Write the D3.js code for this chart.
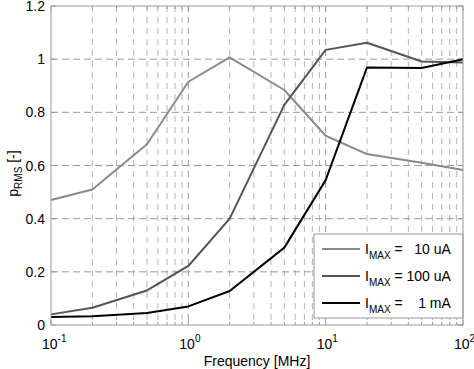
<!DOCTYPE html>
<html>
<head>
<meta charset="utf-8">
<script src="https://cdn.jsdelivr.net/npm/d3@7"></script>
<style>
  body { margin: 0; background: #fff; }
  svg { display: block; font-family: "Liberation Sans", Arial, sans-serif; }
</style>
</head>
<body>
<svg id="chart" width="474" height="369"></svg>
<script>
// frequency points (MHz)
const freqs = [0.1, 0.2, 0.5, 1, 2, 5, 10, 20, 50, 100];

// p_RMS per current limit
const imax10uA  = [0.47, 0.51, 0.68, 0.915, 1.007, 0.884, 0.712, 0.643, 0.61, 0.583];
const imax100uA = [0.04, 0.065, 0.13, 0.222, 0.40, 0.828, 1.035, 1.062, 0.991, 0.987];
const imax1mA   = [0.03, 0.033, 0.045, 0.07, 0.128, 0.291, 0.545, 0.969, 0.967, 1.0];

const seriesNames  = ["10 uA", "100 uA", "1 mA"];
const seriesPad    = ["  ", "", "   "];
const yTicks = [0, 0.2, 0.4, 0.6, 0.8, 1, 1.2];
const xMajor = [0.1, 1, 10, 100];
const xExp   = ["-1", "0", "1", "2"];

const series = [
    { name: seriesNames[0], values: imax10uA,  color: "#8a8a8a" },
    { name: seriesNames[1], values: imax100uA, color: "#555555" },
    { name: seriesNames[2], values: imax1mA,   color: "#000000" }
];

const svg = d3.select("#chart");
const margin = { top: 6, right: 11, bottom: 44, left: 51 };
const width = 474 - margin.left - margin.right;
const height = 369 - margin.top - margin.bottom;

const g = svg.append("g")
    .attr("transform", `translate(${margin.left},${margin.top})`);

const x = d3.scaleLog().domain([0.1, 100]).range([0, width]);
const y = d3.scaleLinear().domain([0, 1.2]).range([height, 0]);

// minor positions 2..9 in each decade
const minor = [];
[0.1, 1, 10].forEach(d => { for (let k = 2; k <= 9; k++) minor.push(d * k); });

// grid
g.append("g").selectAll("line.minor")
    .data(minor).join("line")
    .attr("x1", d => x(d)).attr("x2", d => x(d))
    .attr("y1", 0).attr("y2", height)
    .style("stroke", "#b4b4b4")
    .style("stroke-dasharray", "6,5")
    .style("stroke-width", 1);

g.append("g").selectAll("line.major")
    .data(xMajor.slice(1, 3)).join("line")
    .attr("x1", d => x(d)).attr("x2", d => x(d))
    .attr("y1", 0).attr("y2", height)
    .style("stroke", "#999")
    .style("stroke-dasharray", "6,5");

g.append("g").selectAll("line.hgrid")
    .data(yTicks.slice(1, -1)).join("line")
    .attr("x1", 0).attr("x2", width)
    .attr("y1", d => y(d)).attr("y2", d => y(d))
    .style("stroke", "#999")
    .style("stroke-dasharray", "7,4");

// tick marks on all sides
const tickG = g.append("g").style("stroke", "#999").style("stroke-width", 1);
minor.concat(xMajor).forEach(d => {
    const len = minor.includes(d) ? 3 : 5;
    tickG.append("line").attr("x1", x(d)).attr("x2", x(d)).attr("y1", height).attr("y2", height - len);
    tickG.append("line").attr("x1", x(d)).attr("x2", x(d)).attr("y1", 0).attr("y2", len);
});
yTicks.forEach(d => {
    tickG.append("line").attr("x1", 0).attr("x2", 5).attr("y1", y(d)).attr("y2", y(d));
    tickG.append("line").attr("x1", width).attr("x2", width - 5).attr("y1", y(d)).attr("y2", y(d));
});

// lines
const line = d3.line()
    .x((d, i) => x(freqs[i]))
    .y(d => y(d));

series.forEach(s => {
    g.append("path")
        .datum(s.values)
        .attr("d", line)
        .style("fill", "none")
        .style("stroke", s.color)
        .style("stroke-width", 2)
        .style("stroke-linejoin", "round");
});

// legend
const leg = g.append("g").attr("transform", `translate(${width - 149},${y(0) - 91})`);
leg.append("rect")
    .attr("width", 149).attr("height", 84)
    .style("fill", "#fff")
    .style("stroke", "#999");
series.forEach((s, i) => {
    const ly = 15 + i * 27;
    leg.append("line")
        .attr("x1", 8).attr("x2", 46)
        .attr("y1", ly).attr("y2", ly)
        .style("stroke", s.color)
        .style("stroke-width", 2);
    const t = leg.append("text")
        .attr("x", 51).attr("y", ly + 5)
        .style("font-size", "14px")
        .attr("xml:space", "preserve");
    t.append("tspan").text("I");
    t.append("tspan").attr("dy", 5).style("font-size", "10px").text("MAX");
    t.append("tspan").attr("dy", -5).text(" = " + seriesPad[i] + s.name);
});

// axes box
g.append("rect")
    .attr("width", width).attr("height", height)
    .style("fill", "none")
    .style("stroke", "#999");

// y tick labels
g.append("g").selectAll("text")
    .data(yTicks).join("text")
    .attr("x", -6)
    .attr("y", d => y(d) + 5)
    .attr("text-anchor", "end")
    .style("font-size", "14px")
    .text(d => d3.format("~g")(d));

// x tick labels
xMajor.forEach((d, i) => {
    const t = g.append("text")
        .attr("x", x(d) - 9)
        .attr("y", height + 24)
        .style("font-size", "14px");
    t.append("tspan").text("10");
    t.append("tspan").attr("dy", -7).style("font-size", "10px").text(xExp[i]);
});

// axis titles
g.append("text")
    .attr("x", width / 2)
    .attr("y", height + 41)
    .attr("text-anchor", "middle")
    .style("font-size", "14px")
    .text("Frequency [MHz]");

const yl = g.append("text")
    .attr("transform", `translate(-33,${height / 2 + 8}) rotate(-90)`)
    .attr("text-anchor", "middle")
    .style("font-size", "14px");
yl.append("tspan").text("p");
yl.append("tspan").attr("dy", 4).style("font-size", "10px").text("RMS");
yl.append("tspan").attr("dy", -4).text(" [-]");
</script>
</body>
</html>
